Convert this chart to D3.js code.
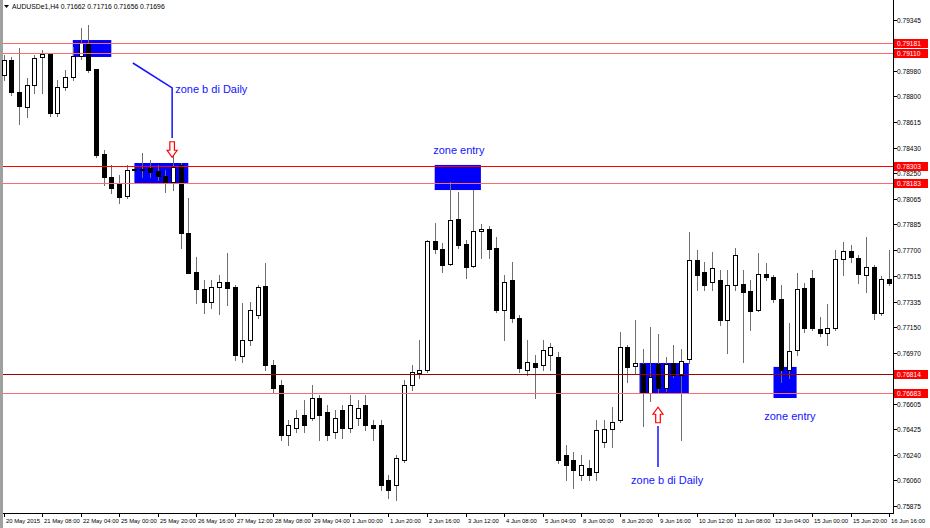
<!DOCTYPE html>
<html>
<head>
<meta charset="utf-8">
<script src="https://cdn.jsdelivr.net/npm/d3@7"></script>
<style>
body { margin: 0; background: #fff; }
svg { display: block; }
text { font-family: "Liberation Sans", Arial, sans-serif; }
</style>
</head>
<body>
<svg width="930" height="528"></svg>
<script>
// AUDUSD H4, 20 May 2015 12:00 .. 16 Jun 2015 16:00 (116 bars)
var open = [0.78953,0.79060,0.78831,0.78724,0.78881,0.79081,0.79102,0.78681,0.78867,0.78938,
    0.79088,0.79181,0.78995,0.78388,0.78224,0.78181,0.78089,0.78274,0.78281,0.78288,
    0.78267,0.78231,0.78189,0.78310,0.77824,0.77546,0.77425,0.77332,0.77439,0.77475,
    0.77439,0.76946,0.77060,0.77239,0.77446,0.76882,0.76739,0.76382,0.76432,0.76525,
    0.76503,0.76646,0.76546,0.76404,0.76561,0.76432,0.76503,0.76596,0.76454,0.76454,
    0.76061,0.76025,0.76204,0.76739,0.76825,0.76846,0.77767,0.77710,0.77603,0.77924,
    0.77746,0.77589,0.77839,0.77853,0.77717,0.77275,0.77489,0.77217,0.76846,0.76896,
    0.76882,0.76953,0.76939,0.76239,0.76204,0.76097,0.76146,0.76118,0.76332,0.76425,
    0.76489,0.77010,0.76875,0.76889,0.76682,0.76889,0.76718,0.76896,0.76811,0.76925,
    0.77632,0.77546,0.77475,0.77489,0.77203,0.77453,0.77460,0.77410,0.77275,0.77532,
    0.77510,0.77353,0.76846,0.76989,0.77432,0.77503,0.77139,0.77110,0.77146,0.77639,
    0.77696,0.77646,0.77525,0.77582,0.77253,0.77496];
var high = [0.79095,0.79081,0.79145,0.78931,0.79095,0.79131,0.79102,0.78917,0.78988,0.79152,
    0.79288,0.79310,0.78995,0.78417,0.78310,0.78239,0.78310,0.78296,0.78396,0.78346,
    0.78310,0.78274,0.78381,0.78324,0.78074,0.77653,0.77489,0.77489,0.77525,0.77682,
    0.77453,0.77325,0.77332,0.77453,0.77610,0.76918,0.76775,0.76489,0.76561,0.76632,
    0.76739,0.76668,0.76596,0.76561,0.76596,0.76668,0.76632,0.76668,0.76489,0.76489,
    0.76097,0.76239,0.76775,0.76882,0.77060,0.77774,0.77896,0.77753,0.78189,0.78117,
    0.77774,0.78131,0.77889,0.77874,0.77796,0.77525,0.77617,0.77239,0.77060,0.76953,
    0.77060,0.77039,0.76975,0.76311,0.76261,0.76239,0.76204,0.76489,0.76489,0.76582,
    0.77118,0.77025,0.77203,0.76996,0.77153,0.77103,0.76939,0.77025,0.76996,0.77832,
    0.77703,0.77617,0.77689,0.77560,0.77560,0.77717,0.77560,0.77489,0.77682,0.77610,
    0.77525,0.77453,0.77182,0.77539,0.77467,0.77560,0.77225,0.77317,0.77703,0.77760,
    0.77739,0.77667,0.77796,0.77596,0.77517,0.77703];
var low = [0.78917,0.78810,0.78603,0.78653,0.78824,0.78824,0.78660,0.78660,0.78845,0.78917,
    0.79067,0.78974,0.78367,0.78167,0.78110,0.78039,0.78074,0.78260,0.78224,0.78224,
    0.78203,0.78117,0.78131,0.77717,0.77539,0.77325,0.77253,0.77289,0.77246,0.77310,
    0.76918,0.76903,0.77025,0.77217,0.76846,0.76689,0.76346,0.76311,0.76404,0.76404,
    0.76489,0.76346,0.76346,0.76361,0.76361,0.76404,0.76454,0.76418,0.76346,0.75989,
    0.75932,0.75918,0.76189,0.76703,0.76789,0.76832,0.77682,0.77546,0.77596,0.77717,
    0.77503,0.77582,0.77646,0.77646,0.77260,0.77060,0.77189,0.76832,0.76811,0.76646,
    0.76846,0.76846,0.76182,0.76061,0.76004,0.76061,0.76061,0.76061,0.76296,0.76296,
    0.76475,0.76761,0.76825,0.76446,0.76625,0.76689,0.76696,0.76796,0.76346,0.76896,
    0.77417,0.77417,0.77417,0.77167,0.76968,0.77417,0.76903,0.77132,0.77267,0.77489,
    0.77332,0.76761,0.76789,0.76953,0.77118,0.77132,0.77089,0.77025,0.77132,0.77525,
    0.77617,0.77467,0.77403,0.77210,0.77239,0.77453];
var close = [0.79060,0.78831,0.78731,0.78881,0.79074,0.79102,0.78681,0.78867,0.78938,0.79088,
    0.79181,0.78988,0.78381,0.78224,0.78146,0.78081,0.78274,0.78281,0.78274,0.78260,
    0.78231,0.78181,0.78296,0.77824,0.77539,0.77425,0.77332,0.77439,0.77475,0.77432,
    0.76953,0.77060,0.77275,0.77439,0.76882,0.76718,0.76382,0.76454,0.76503,0.76454,
    0.76646,0.76525,0.76382,0.76503,0.76432,0.76596,0.76575,0.76454,0.76432,0.76025,
    0.75989,0.76218,0.76739,0.76832,0.76846,0.77767,0.77710,0.77596,0.77917,0.77739,
    0.77582,0.77839,0.77853,0.77710,0.77275,0.77475,0.77217,0.76860,0.76903,0.76868,
    0.76989,0.77010,0.76204,0.76168,0.76132,0.76168,0.76097,0.76418,0.76425,0.76475,
    0.77010,0.76868,0.76896,0.76682,0.76796,0.76718,0.76889,0.76811,0.76910,0.77632,
    0.77525,0.77453,0.77574,0.77203,0.77453,0.77667,0.77403,0.77267,0.77532,0.77510,
    0.77353,0.76846,0.76982,0.77425,0.77146,0.77146,0.77110,0.77146,0.77639,0.77696,
    0.77653,0.77532,0.77582,0.77253,0.77496,0.77467];

// one time label every 5 bars
var timeLabels = ["20 May 2015","21 May 08:00","22 May 04:00","25 May 00:00","25 May 20:00",
    "26 May 16:00","27 May 12:00","28 May 08:00","29 May 04:00","1 Jun 00:00","1 Jun 20:00",
    "2 Jun 16:00","3 Jun 12:00","4 Jun 08:00","5 Jun 04:00","8 Jun 00:00","8 Jun 20:00",
    "9 Jun 16:00","10 Jun 12:00","11 Jun 08:00","12 Jun 04:00","15 Jun 00:00","15 Jun 20:00",
    "16 Jun 16:00"];
// 0.79165 and 0.76790 sit under the level tags, only their tick marks show
var priceTicks = [0.79345,0.79165,0.78980,0.78800,0.78615,0.78430,0.78250,0.78065,0.77885,
    0.77700,0.77515,0.77335,0.77150,0.76970,0.76790,0.76605,0.76425,0.76240,0.76060,0.75875];
var hiddenTicks = [0.79165, 0.76790];

// horizontal levels
var levels = [0.79181, 0.79110, 0.78303, 0.78183, 0.76814, 0.76683];
var levelColors = ["#ff6a6a", "#ff6a6a", "#ff0000", "#ff6a6a", "#a00000", "#ff6a6a"];

// zones: [from bar, to bar, top price, bottom price]
var zones = [[9, 14, 0.79202, 0.79081], [17, 24, 0.78324, 0.78181], [56, 62, 0.78310, 0.78131],
    [82.6, 89, 0.76896, 0.76675], [100, 103, 0.76868, 0.76646]];

// notes: [bar, price, text]
var notes = [[22.3, 0.78824, "zone b di Daily"], [55.8, 0.78388, "zone entry"],
    [81.5, 0.76032, "zone b di Daily"], [98.8, 0.76489, "zone entry"]];

var svg = d3.select("svg");
var plotRight = 893, plotBottom = 513;

var x = d3.scaleLinear().domain([0, 115]).range([3.5, 889]);
var y = d3.scaleLinear().domain([0.75875, 0.79345]).range([506, 20]);
var bars = d3.range(open.length);

svg.append("rect").attr("x", 0).attr("y", 0).attr("width", 3).attr("height", 528).attr("fill", "#a0a0a0");

// zones in background
svg.append("g").selectAll("rect")
    .data(zones)
    .enter().append("rect")
    .attr("x", function(d) { return x(d[0]); })
    .attr("y", function(d) { return y(d[2]); })
    .attr("width", function(d) { return x(d[1]) - x(d[0]); })
    .attr("height", function(d) { return y(d[3]) - y(d[2]); })
    .attr("fill", "#0000ff");

// candles
var candle = svg.append("g").selectAll("g")
    .data(bars)
    .enter().append("g");

candle.append("line")
    .attr("x1", function(i) { return Math.round(x(i)) + 0.5; })
    .attr("x2", function(i) { return Math.round(x(i)) + 0.5; })
    .attr("y1", function(i) { return Math.round(y(high[i])); })
    .attr("y2", function(i) { return Math.round(y(low[i])) + 1; })
    .attr("stroke", "#6e6e6e");

candle.append("rect")
    .attr("x", function(i) { return Math.round(x(i)) - 1.5; })
    .attr("y", function(i) { return Math.round(y(Math.max(open[i], close[i]))) + 0.5; })
    .attr("width", 4)
    .attr("height", function(i) {
        return Math.round(y(Math.min(open[i], close[i]))) - Math.round(y(Math.max(open[i], close[i])));
    })
    .attr("fill", function(i) { return close[i] < open[i] ? "#000" : "#fff"; })
    .attr("stroke", "#000");

// axes frame
svg.append("line").attr("x1", plotRight + 0.5).attr("x2", plotRight + 0.5)
    .attr("y1", 0).attr("y2", plotBottom + 1).attr("stroke", "#000");
svg.append("line").attr("x1", 3).attr("x2", plotRight + 1)
    .attr("y1", plotBottom + 0.5).attr("y2", plotBottom + 0.5).attr("stroke", "#000");

var yAxis = svg.append("g").selectAll("g")
    .data(priceTicks)
    .enter().append("g")
    .attr("transform", function(d) { return "translate(0," + (Math.round(y(d)) + 0.5) + ")"; });
yAxis.append("line").attr("x1", plotRight).attr("x2", plotRight + 4).attr("stroke", "#000");
yAxis.filter(function(d) { return hiddenTicks.indexOf(d) < 0; })
    .append("text")
    .attr("x", plotRight + 4)
    .attr("dy", "0.35em")
    .attr("font-size", "6.6px")
    .text(function(d) { return d.toFixed(5); });

var xAxis = svg.append("g").selectAll("g")
    .data(timeLabels)
    .enter().append("g")
    .attr("transform", function(d, k) { return "translate(" + (Math.round(x(k * 5)) + 0.5) + ",0)"; });
xAxis.append("line").attr("y1", plotBottom).attr("y2", plotBottom + 4).attr("stroke", "#000");
xAxis.append("text")
    .attr("x", 1.5)
    .attr("y", 523)
    .attr("font-size", "5.9px")
    .text(function(d) { return d; });

// levels
svg.append("g").selectAll("line")
    .data(levels)
    .enter().append("line")
    .attr("x1", 3).attr("x2", plotRight)
    .attr("y1", function(d) { return Math.round(y(d)) + 0.5; })
    .attr("y2", function(d) { return Math.round(y(d)) + 0.5; })
    .attr("stroke", function(d, k) { return levelColors[k]; });

var tag = svg.append("g").selectAll("g")
    .data(levels)
    .enter().append("g")
    .attr("transform", function(d) { return "translate(" + (plotRight + 1) + "," + Math.round(y(d)) + ")"; });
tag.append("rect").attr("x", 0).attr("y", -4).attr("width", 34).attr("height", 9).attr("fill", "#ff0000");
tag.append("text")
    .attr("x", 3).attr("y", 0.5)
    .attr("dy", "0.35em")
    .attr("font-size", "6.6px")
    .attr("fill", "#fff")
    .text(function(d) { return d.toFixed(5); });

// annotations
var blue = "#1414ff";
svg.append("path")
    .attr("d", d3.line()([[x(16.8), y(0.79038)], [x(21.9), y(0.78860)], [x(21.9), y(0.78503)]]))
    .attr("fill", "none").attr("stroke", blue).attr("stroke-width", 1.5);
svg.append("line")
    .attr("x1", x(85)).attr("x2", x(85))
    .attr("y1", y(0.76446)).attr("y2", y(0.76154))
    .attr("stroke", blue).attr("stroke-width", 1.5);

// hollow arrows: down above zone 2, up below zone 4
var arrowDown = "M-2.3,0 L2.3,0 L2.3,8.5 L5,8.5 L0,15.5 L-5,8.5 L-2.3,8.5 Z";
svg.append("path")
    .attr("d", arrowDown)
    .attr("transform", "translate(" + x(21.9) + "," + (y(0.78365) - 15.5) + ")")
    .attr("fill", "#fff").attr("stroke", "#ff0000").attr("stroke-width", 1.2);
svg.append("path")
    .attr("d", arrowDown)
    .attr("transform", "translate(" + x(85) + "," + (y(0.76580) + 15.5) + ") scale(1,-1)")
    .attr("fill", "#fff").attr("stroke", "#ff0000").attr("stroke-width", 1.2);

svg.append("g").selectAll("text")
    .data(notes)
    .enter().append("text")
    .attr("x", function(d) { return x(d[0]); })
    .attr("y", function(d) { return y(d[1]); })
    .attr("font-size", "11px")
    .attr("fill", blue)
    .text(function(d) { return d[2]; });

// header
svg.append("path").attr("d", "M4,5 L9,5 L6.5,8 Z").attr("fill", "#000");
svg.append("text")
    .attr("x", 12).attr("y", 9)
    .attr("font-size", "6.8px")
    .text("AUDUSDe1,H4  0.71662 0.71716 0.71656 0.71696");
</script>
</body>
</html>
